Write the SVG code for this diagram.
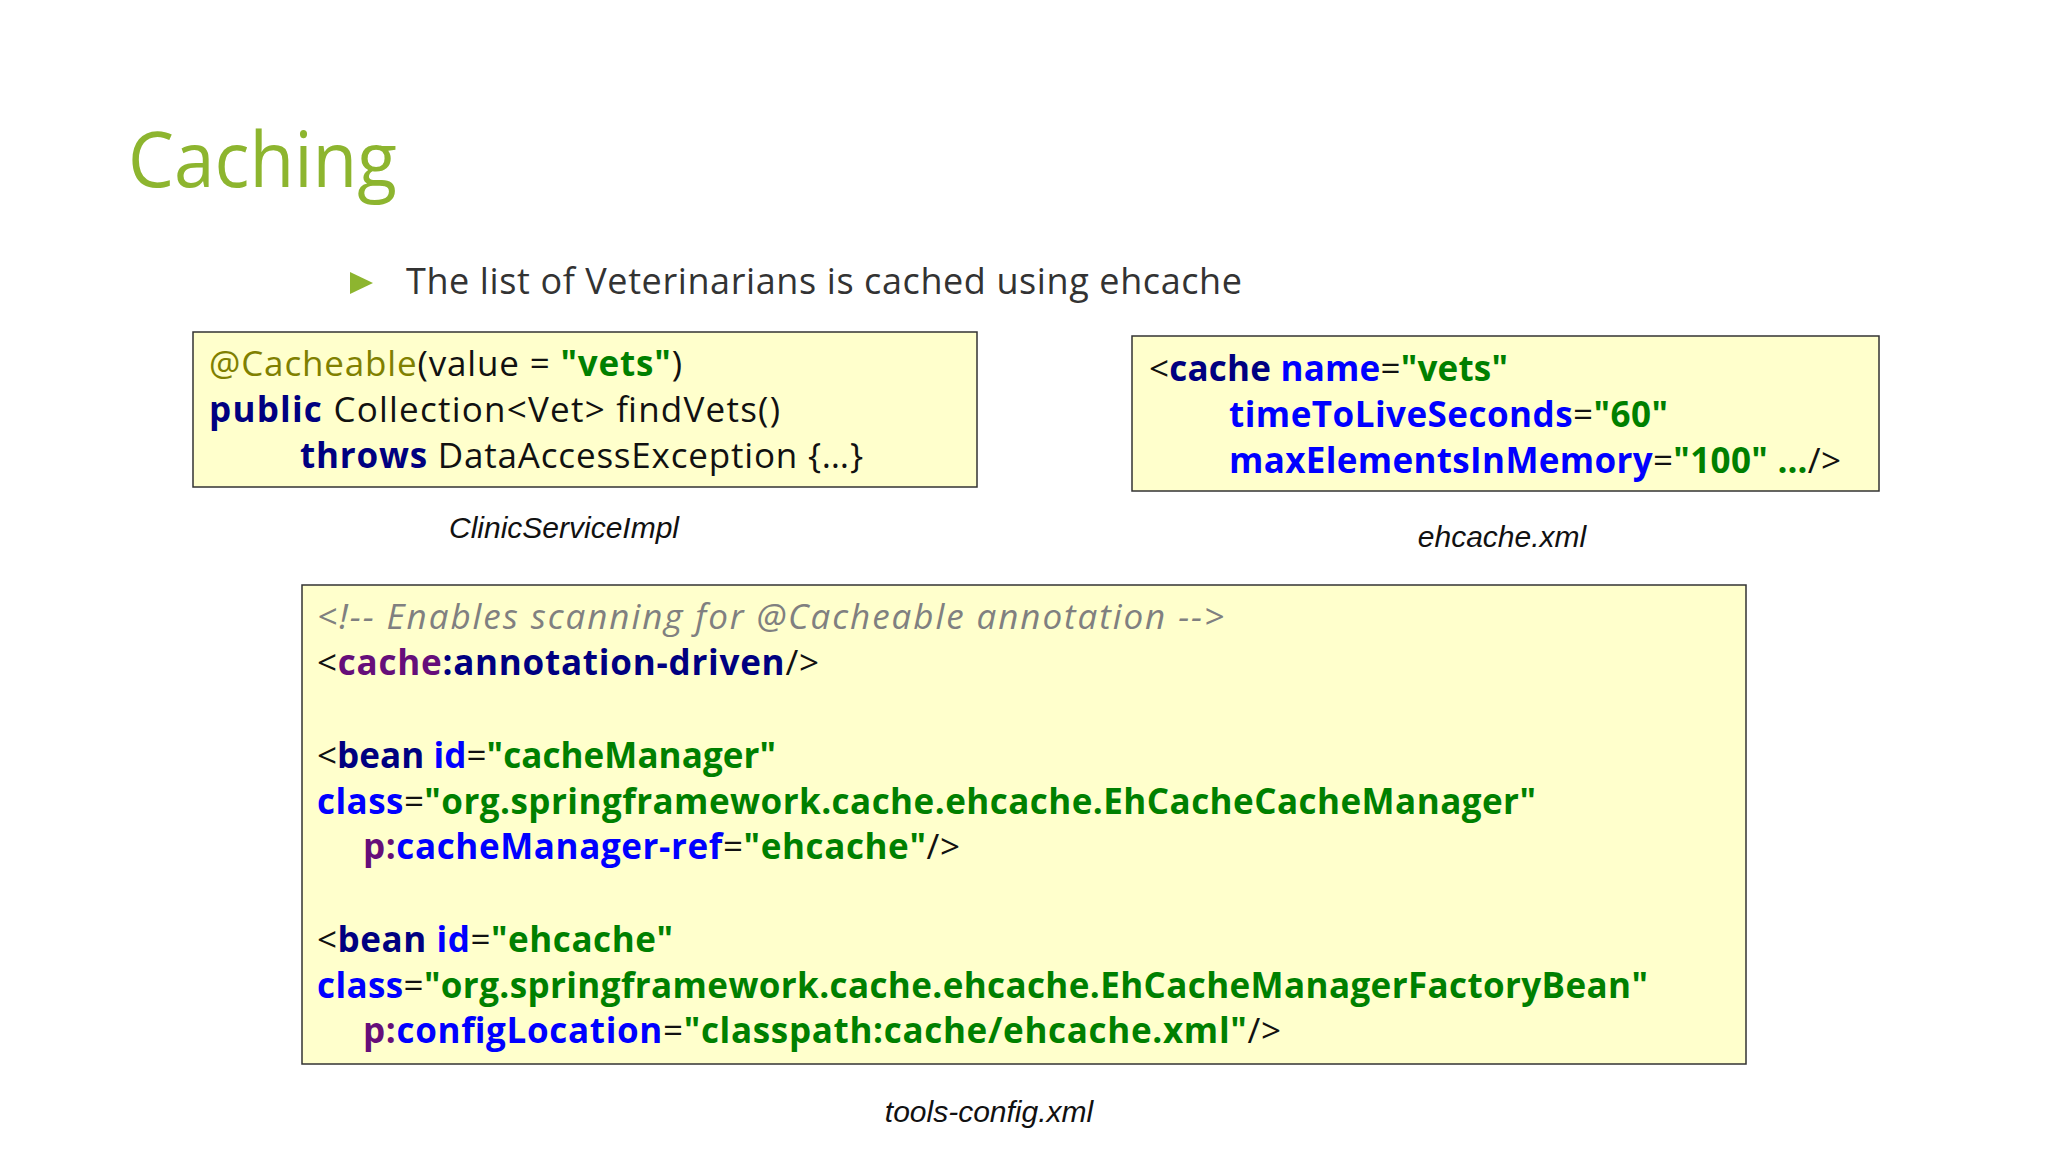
<svg xmlns="http://www.w3.org/2000/svg" width="2048" height="1152" viewBox="0 0 2048 1152">
<style>
.c{font-family:"Open Sans","DejaVu Sans",sans-serif;font-size:35px;fill:#111}
.box{fill:#FFFFCC;stroke:#333;stroke-width:1.5}
.cap{font-family:"Liberation Sans",Arial,sans-serif;font-style:italic;font-size:30px;fill:#111;text-anchor:middle}
.k{fill:#000080;font-weight:bold}
.s{fill:#008000;font-weight:bold}
.a{fill:#0000FF;font-weight:bold}
.p{fill:#660E7A;font-weight:bold}
.an{fill:#808000}
.cm{fill:#808080;font-style:italic}
</style>
<rect width="2048" height="1152" fill="#fff"/>
<g id="title"><text x="128" y="187" font-family="'Open Sans','DejaVu Sans',sans-serif" font-size="76" fill="#8DB52F" textLength="269" lengthAdjust="spacingAndGlyphs">Caching</text></g>
<g id="bullet">
<polygon points="350,272 373,283 350,294" fill="#8DB52F"/>
<text x="406" y="294" font-family="'Open Sans','DejaVu Sans',sans-serif" font-size="36" fill="#333" textLength="836" lengthAdjust="spacing">The list of Veterinarians is cached using ehcache</text>
</g>
<g id="clinic">
<rect class="box" x="193" y="332" width="784" height="155"/>
<text class="c" x="209" y="376" textLength="473"><tspan class="an">@Cacheable</tspan>(value = <tspan class="s">"vets"</tspan>)</text>
<text class="c" x="209" y="422" textLength="571"><tspan class="k">public</tspan> Collection&lt;Vet&gt; findVets()</text>
<text class="c" x="300" y="468" textLength="563"><tspan class="k">throws</tspan> DataAccessException {…}</text>
<text class="cap" x="564" y="538">ClinicServiceImpl</text>
</g>
<g id="ehcache">
<rect class="box" x="1132" y="336" width="747" height="155"/>
<text class="c" x="1149" y="381" textLength="359">&lt;<tspan class="k">cache</tspan> <tspan class="a">name</tspan>=<tspan class="s">"vets"</tspan></text>
<text class="c" x="1229" y="427" textLength="439"><tspan class="a">timeToLiveSeconds</tspan>=<tspan class="s">"60"</tspan></text>
<text class="c" x="1229" y="473" textLength="612"><tspan class="a">maxElementsInMemory</tspan>=<tspan class="s">"100"</tspan> <tspan class="s">…</tspan>/&gt;</text>
<text class="cap" x="1502" y="547">ehcache.xml</text>
</g>
<g id="tools">
<rect class="box" x="302" y="585" width="1444" height="479"/>
<text class="c cm" x="317" y="629" textLength="907">&lt;!-- Enables scanning for @Cacheable annotation --&gt;</text>
<text class="c" x="317" y="675" textLength="502">&lt;<tspan class="p">cache</tspan><tspan class="k">:annotation-driven</tspan>/&gt;</text>
<text class="c" x="317" y="768" textLength="459">&lt;<tspan class="k">bean</tspan> <tspan class="a">id</tspan>=<tspan class="s">"cacheManager"</tspan></text>
<text class="c" x="317" y="814" textLength="1219"><tspan class="a">class</tspan>=<tspan class="s">"org.springframework.cache.ehcache.EhCacheCacheManager"</tspan></text>
<text class="c" x="363" y="859" textLength="597"><tspan class="p">p:</tspan><tspan class="a">cacheManager-ref</tspan>=<tspan class="s">"ehcache"</tspan>/&gt;</text>
<text class="c" x="317" y="952" textLength="356">&lt;<tspan class="k">bean</tspan> <tspan class="a">id</tspan>=<tspan class="s">"ehcache"</tspan></text>
<text class="c" x="317" y="998" textLength="1331"><tspan class="a">class</tspan>=<tspan class="s">"org.springframework.cache.ehcache.EhCacheManagerFactoryBean"</tspan></text>
<text class="c" x="363" y="1043" textLength="918"><tspan class="p">p:</tspan><tspan class="a">configLocation</tspan>=<tspan class="s">"classpath:cache/ehcache.xml"</tspan>/&gt;</text>
<text class="cap" x="989" y="1122">tools-config.xml</text>
</g>
<g id="connectors"/>
</svg>
